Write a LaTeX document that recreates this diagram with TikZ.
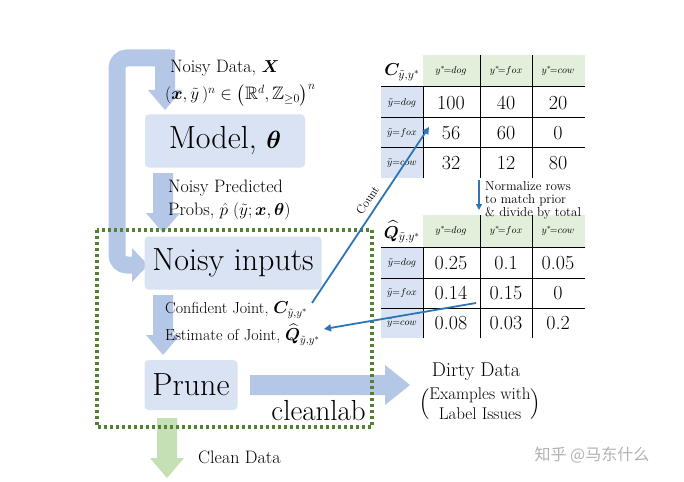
\documentclass[tikz,border=0pt]{standalone}
\usepackage{amsmath,amssymb,bm}
\usepackage{fontspec}
\newfontfamily\cjk{Noto Sans CJK SC}
\usetikzlibrary{arrows.meta}
\definecolor{lblue}{HTML}{B4C7E7}
\definecolor{boxblue}{HTML}{DAE3F3}
\definecolor{lgreen}{HTML}{C5E0B4}
\definecolor{hgreen}{HTML}{E2EFDA}
\definecolor{dgreen}{HTML}{548235}
\definecolor{arrblue}{HTML}{2E75B6}
\newcommand\blkdown[3]{\fill[#3] (#1-10,#2) -- (#1+10,#2) -- (#1+10,#2+40) -- (#1+17,#2+40) -- (#1,#2+60) -- (#1-17,#2+40) -- (#1-10,#2+40) -- cycle;}
\tikzset{procbox/.style={fill=boxblue,rounded corners=4pt,inner sep=0},
 txt/.style={anchor=west,inner sep=0,font=\fontsize{18}{20}\selectfont},
 lab/.style={inner sep=0,font=\fontsize{10}{11}\selectfont},
 num/.style={inner sep=0,font=\fontsize{20}{22}\selectfont}}
\begin{document}
\begin{tikzpicture}[x=1pt,y=-1pt]
\useasboundingbox (0,0) rectangle (684,481);
\fill[white] (0,0) rectangle (684,481);
% loop
\draw[lblue,line width=17pt,rounded corners=10pt] (170,58) -- (117,58) -- (117,265) -- (133,265);
\fill[lblue] (132,248) -- (148,265) -- (132,282) -- cycle;
\blkdown{165}{50}{lblue}
\blkdown{163}{173}{lblue}
\blkdown{163}{295}{lblue}
\blkdown{167}{418}{lgreen}
% boxes
\node[procbox,minimum width=160pt,minimum height=53pt] (model) at (225,141) {\fontsize{32}{36}\selectfont Model, $\bm{\theta}$};
\node[procbox,minimum width=177pt,minimum height=53pt] (noisy) at (233,263) {\fontsize{32}{36}\selectfont Noisy inputs};
\node[procbox,minimum width=93pt,minimum height=50pt] (prune) at (191,385) {\fontsize{32}{36}\selectfont Prune};
% right block arrow
\fill[lblue] (250,375) -- (385,375) -- (385,365) -- (410,385) -- (385,405) -- (385,395) -- (250,395) -- cycle;
% dotted frame
\draw[dgreen,line width=3.5pt,dash pattern=on 3pt off 3pt] (97,230) rectangle (372,427);
\node[anchor=south east,inner sep=0,font=\fontsize{29}{32}\selectfont] (cl) at (366,421) {cleanlab};
% texts
\node[txt] (t1) at (170,68) {Noisy Data, $\bm{X}$};
\node[txt] (t2) at (165,95) {$(\bm{x},\tilde{y}\,)^n\in\big(\mathbb{R}^d,\mathbb{Z}_{\ge0}\big)^n$};
\node[txt] (t3) at (168,188) {Noisy Predicted};
\node[txt] (t4) at (168,211) {Probs, $\hat{p}\;(\tilde{y};\bm{x},\bm{\theta})$};
\node[txt,font=\fontsize{16}{18}\selectfont] (cj) at (165,310) {Confident Joint, $\bm{C}_{\tilde{y},y^*}$};
\node[txt,font=\fontsize{16}{18}\selectfont] (ej) at (165,335) {Estimate of Joint, $\widehat{\bm{Q}}_{\tilde{y},y^*}$};
\node[txt] (clean) at (198,457) {Clean Data};
\node[num] (dirty) at (476,372) {Dirty Data};
\node[inner sep=0] (dirty2) at (480,404) {\fontsize{17}{19}\selectfont$\left(\vcenter{\hbox{\shortstack{Examples with\\[2pt]Label Issues}}}\right)$};
% tables
\foreach \yt/\name/\sym in {55/C/{\bm{C}}, 215/Q/{\widehat{\bm{Q}}}} {
 \fill[hgreen] (423,\yt) rectangle (585,\yt+32);
 \fill[boxblue] (381,\yt+32) rectangle (423,\yt+123);
 \draw[black,line width=1pt] (381,\yt+32) -- (585,\yt+32) (381,\yt+63) -- (585,\yt+63) (381,\yt+93) -- (585,\yt+93);
 \draw[black,line width=1pt] (423,\yt+32) -- (423,\yt+123) (480,\yt) -- (480,\yt+123) (532,\yt) -- (532,\yt+123);
 \node[inner sep=0,font=\fontsize{18}{20}\selectfont] (h\name) at (402,\yt+17) {$\sym_{\tilde{y},y^*}$};
 \node[lab] at (451,\yt+16) {$y^*\!{=}dog$};
 \node[lab] at (506,\yt+16) {$y^*\!{=}fox$};
 \node[lab] at (558,\yt+16) {$y^*\!{=}cow$};
 \node[lab] at (402,\yt+48) {$\tilde{y}{=}dog$};
 \node[lab] at (402,\yt+78) {$\tilde{y}{=}fox$};
 \node[lab] at (402,\yt+108) {$\tilde{y}{=}cow$};
}
\foreach \v [count=\i from 0] in {100,40,20,56,60,0,32,12,80} {
 \pgfmathtruncatemacro\r{\i/3}\pgfmathtruncatemacro\c{mod(\i,3)}
 \pgfmathsetmacro\xx{\c==0?451:(\c==1?506:558)}
 \node[num] (c\i) at (\xx,{55+48+30*\r}) {\v};}
\foreach \v [count=\i from 0] in {0.25,0.1,0.05,0.14,0.15,0,0.08,0.03,0.2} {
 \pgfmathtruncatemacro\r{\i/3}\pgfmathtruncatemacro\c{mod(\i,3)}
 \pgfmathsetmacro\xx{\c==0?451:(\c==1?506:558)}
 \node[num] (q\i) at (\xx,{215+48+30*\r}) {\v};}
\coordinate (na) at (479,180);
\coordinate (nb) at (479,210);
\draw[arrblue,line width=1.8pt,-{Triangle[length=6pt,width=6pt]}] (na) -- (nb);
\node[anchor=north west,inner sep=0,align=left,font=\fontsize{13}{13}\selectfont] (norm) at (485,181) {Normalize rows\\to match prior\\\& divide by total};
\coordinate (cs) at (312,303);
\coordinate (ce) at (429,127);
\draw[arrblue,line width=1.8pt,-{Triangle[length=7pt,width=7pt]}] (cs) -- node[pos=0.55,sloped,above=2pt,font=\fontsize{12}{14}\selectfont,text=black] {Count} (ce);
\coordinate (qs) at (476,303);
\coordinate (qe) at (324,329);
\draw[arrblue,line width=1.8pt,-{Triangle[length=7pt,width=7pt]}] (qs) -- (qe);
\node[inner sep=0,text=gray!60,font=\cjk\fontsize{16}{18}\selectfont] (wm) at (592,455) {知乎 @马东什么};
\end{tikzpicture}
\end{document}
